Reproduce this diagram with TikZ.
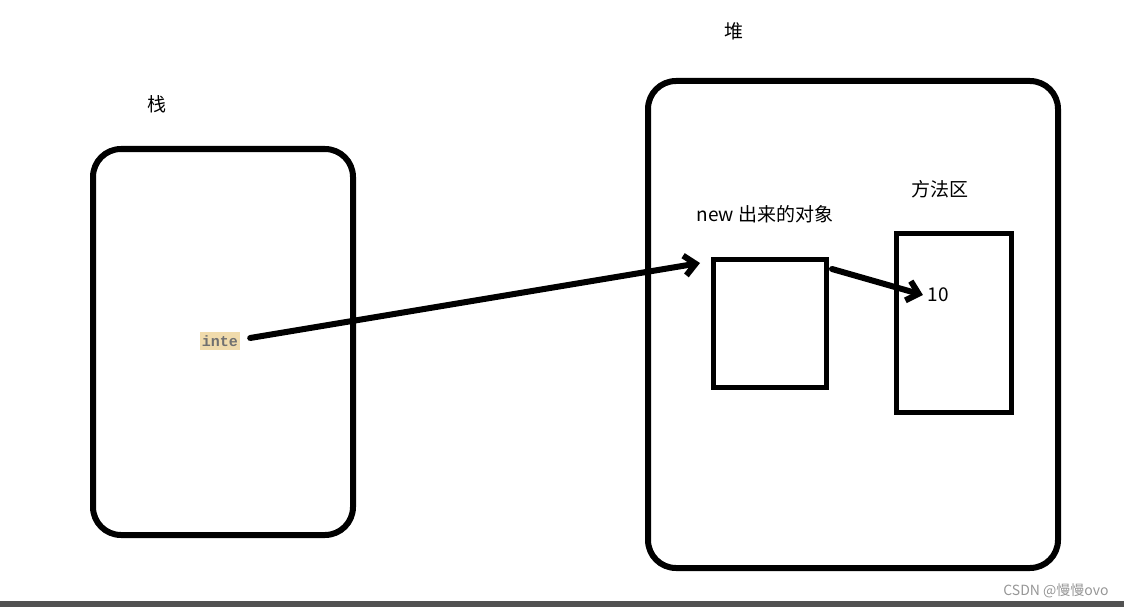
\documentclass[tikz,border=0pt]{standalone}
\usepackage{fontspec}
\setmainfont{Noto Sans CJK SC}
\setmonofont{Liberation Mono}
\usetikzlibrary{arrows.meta, calc}

\definecolor{hlbg}{RGB}{240,219,172}
\definecolor{hltext}{RGB}{112,112,112}
\definecolor{wmgray}{RGB}{150,150,150}
\definecolor{barpix}{RGB}{82,82,82}

\begin{document}
\begin{tikzpicture}[x=1pt, y=-1pt, >={Straight Barb[length=11pt, width=20pt]},
    every node/.style={font=\fontsize{19}{21}\selectfont},
    memframe/.style={draw, line width=6pt, rounded corners=28pt, anchor=north west},
    membox/.style={draw, line width=5pt, anchor=north west},
    refarrow/.style={->, line width=6pt, line cap=round}]
    % 0. 画布边界 (与原图 1124 x 607 对齐)
    \useasboundingbox (0,0) rectangle (1124,607);
    \fill[barpix] (0,601) rectangle (1124,607);

    % 1. 栈与堆两个大圆角框
    \node[memframe, minimum width=260pt, minimum height=386pt] (stack) at (90,146) {};
    \node[memframe, minimum width=410pt, minimum height=487pt] (heap) at (645,78) {};
    \node (stacklbl) at (157,104) {栈};
    \node (heaplbl) at (734,31) {堆};

    % 2. 堆内部: new 出来的对象 与 方法区
    \node[membox, minimum width=113pt, minimum height=128pt] (obj) at (711,257) {};
    \node[membox, minimum width=115pt, minimum height=179pt] (method) at (894,231) {};
    \node (objlbl) at (765,214) {new 出来的对象};
    \node (methodlbl) at (940,189) {方法区};
    \node (ten) at (938,295) {10};

    % 3. 栈里的引用变量 (高亮底色)
    \node[fill=hlbg, text=hltext, inner xsep=2pt, inner ysep=3pt,
          font=\fontsize{15}{17}\selectfont\ttfamily\bfseries] (inte) at (220,341) {inte};

    % 4. 引用箭头
    \coordinate (objin) at ($(obj.north west)+(-11,6)$);
    \coordinate (objout) at ($(obj.north east)+(3,12)$);
    \draw[refarrow] ($(inte.east)+(10,-3)$) -- (objin);
    \draw[refarrow] (objout) -- ($(ten.west)+(-1,0)$);

    % 水印
    \node[text=wmgray, font=\fontsize{14}{16}\selectfont] (mark) at (1056,591) {CSDN @慢慢ovo};
\end{tikzpicture}
\end{document}
